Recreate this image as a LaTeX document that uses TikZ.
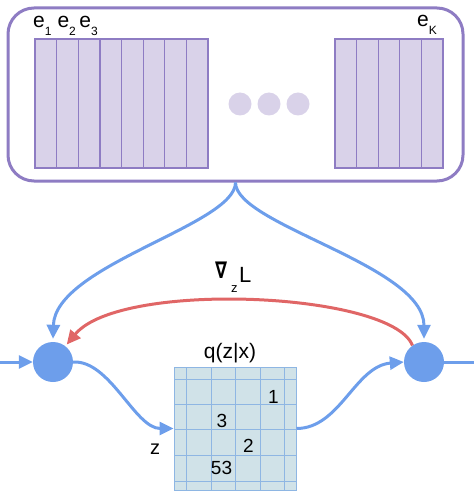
\documentclass[tikz,border=0pt]{standalone}
\usepackage{fontspec}
\usepackage{graphicx}
\setmainfont{Liberation Sans}
\newfontfamily\nabfont{DejaVu Sans}
\usetikzlibrary{arrows.meta}
\definecolor{purp}{HTML}{8E7CC3}
\definecolor{lav}{HTML}{D9D2E9}
\definecolor{blu}{HTML}{6D9EEB}
\definecolor{redd}{HTML}{E06666}
\definecolor{gfill}{HTML}{D0E2E8}
\definecolor{gline}{HTML}{8EB6E3}
\newcommand{\lowsub}[1]{\raisebox{-7.5pt}{\fontsize{12}{12}\selectfont #1}}
\begin{document}
\begin{tikzpicture}[x=1pt,y=-1pt,
  bigtip/.style={-{Triangle[length=14pt,width=13pt]}},
  bluelink/.style={draw=blu, line width=3pt, bigtip},
  redlink/.style={draw=redd, line width=3pt, bigtip},
  bookbox/.style={draw=purp, line width=3pt, rounded corners=26pt, inner sep=0pt},
  block/.style={draw=purp, fill=lav, line width=1.2pt, inner sep=0pt, minimum height=129pt},
  blockline/.style={draw=purp, line width=1.2pt},
  dot/.style={circle, fill=lav, minimum size=23pt, inner sep=0pt},
  hub/.style={circle, fill=blu, minimum size=40pt, inner sep=0pt},
  gridbox/.style={draw=gline, fill=gfill, line width=1pt, inner sep=0pt, minimum width=122pt, minimum height=123pt},
  gridline/.style={draw=gline, line width=1pt},
  txt/.style={inner sep=0pt, font=\fontsize{21}{21}\selectfont},
  num/.style={inner sep=0pt, font=\fontsize{19}{19}\selectfont}]
\useasboundingbox (0,0) rectangle (474,497);
% codebook
\node[bookbox, minimum width=455pt, minimum height=173pt] (book) at (235.5,94.5) {};
\node[block, minimum width=173pt] (bl) at (121.5,103.5) {};
\foreach \x in {56.6,78.2,99.9,121.5,143.1,164.7,186.4} \draw[blockline] (\x,39) -- (\x,168);
\node[block, minimum width=108pt] (br) at (389,103.5) {};
\foreach \x in {356.6,378.2,399.8,421.4} \draw[blockline] (\x,39) -- (\x,168);
\node[dot] (d1) at (240,104) {};
\node[dot] (d2) at (269,104) {};
\node[dot] (d3) at (298,104) {};
\node[txt, anchor=base west] (elab) at (33,28) {e\lowsub{1}\kern6pt e\lowsub{2}\kern3.5pt e\lowsub{3}};
\node[txt, anchor=base west] (eK) at (417,27) {e\lowsub{K}};
% hubs
\node[hub] (lc) at (53,362) {};
\node[hub] (rc) at (424,362) {};
\coordinate (in) at (0,362);
\coordinate (out) at (474,362);
% grid
\node[gridbox] (q) at (235,428.5) {};
\foreach \x in {186,211,235,260,284} \draw[gridline] (\x,367) -- (\x,490);
\foreach \y in {379,404,429,455,481} \draw[gridline] (174,\y) -- (296,\y);
\node[num] (n1) at (273.5,396.5) {1};
\node[num] (n3) at (222,420.5) {3};
\node[num] (n2) at (248.5,445.5) {2};
\node[num] (n53) at (221.5,467.5) {53};
\node[txt] (qlab) at (230,353) {q(z|x)};
\node[txt, font=\fontsize{20}{20}\selectfont] (zlab) at (155,449) {z};
\node[inner sep=0pt, anchor=base west, font=\fontsize{22}{22}\selectfont] (grad) at (215,282)
  {\raisebox{4pt}{\scalebox{0.75}[1]{\nabfont\bfseries\fontsize{23}{23}\selectfont ∇}}\kern4pt\raisebox{-10pt}{\fontsize{13}{13}\selectfont z}\kern1.5pt L};
% connectors
\draw[bluelink] (book.south) .. controls (235.5,225) and (55,265) .. ([yshift=3pt]lc.north);
\draw[bluelink] (book.south) .. controls (235.5,225) and (424,265) .. ([yshift=3pt]rc.north);
\draw[redlink, shorten >=2pt] (rc.125) .. controls (392,292) and (120,280) .. (lc.52);
\draw[bluelink] (in) -- (lc.west);
\draw[draw=blu, line width=3pt] (rc.east) -- (out);
\draw[bluelink] (lc.east) .. controls (110,360) and (135,428.5) .. (q.west);
\draw[bluelink] (q.east) .. controls (340,428.5) and (355,366) .. (rc.west);
\end{tikzpicture}
\end{document}
